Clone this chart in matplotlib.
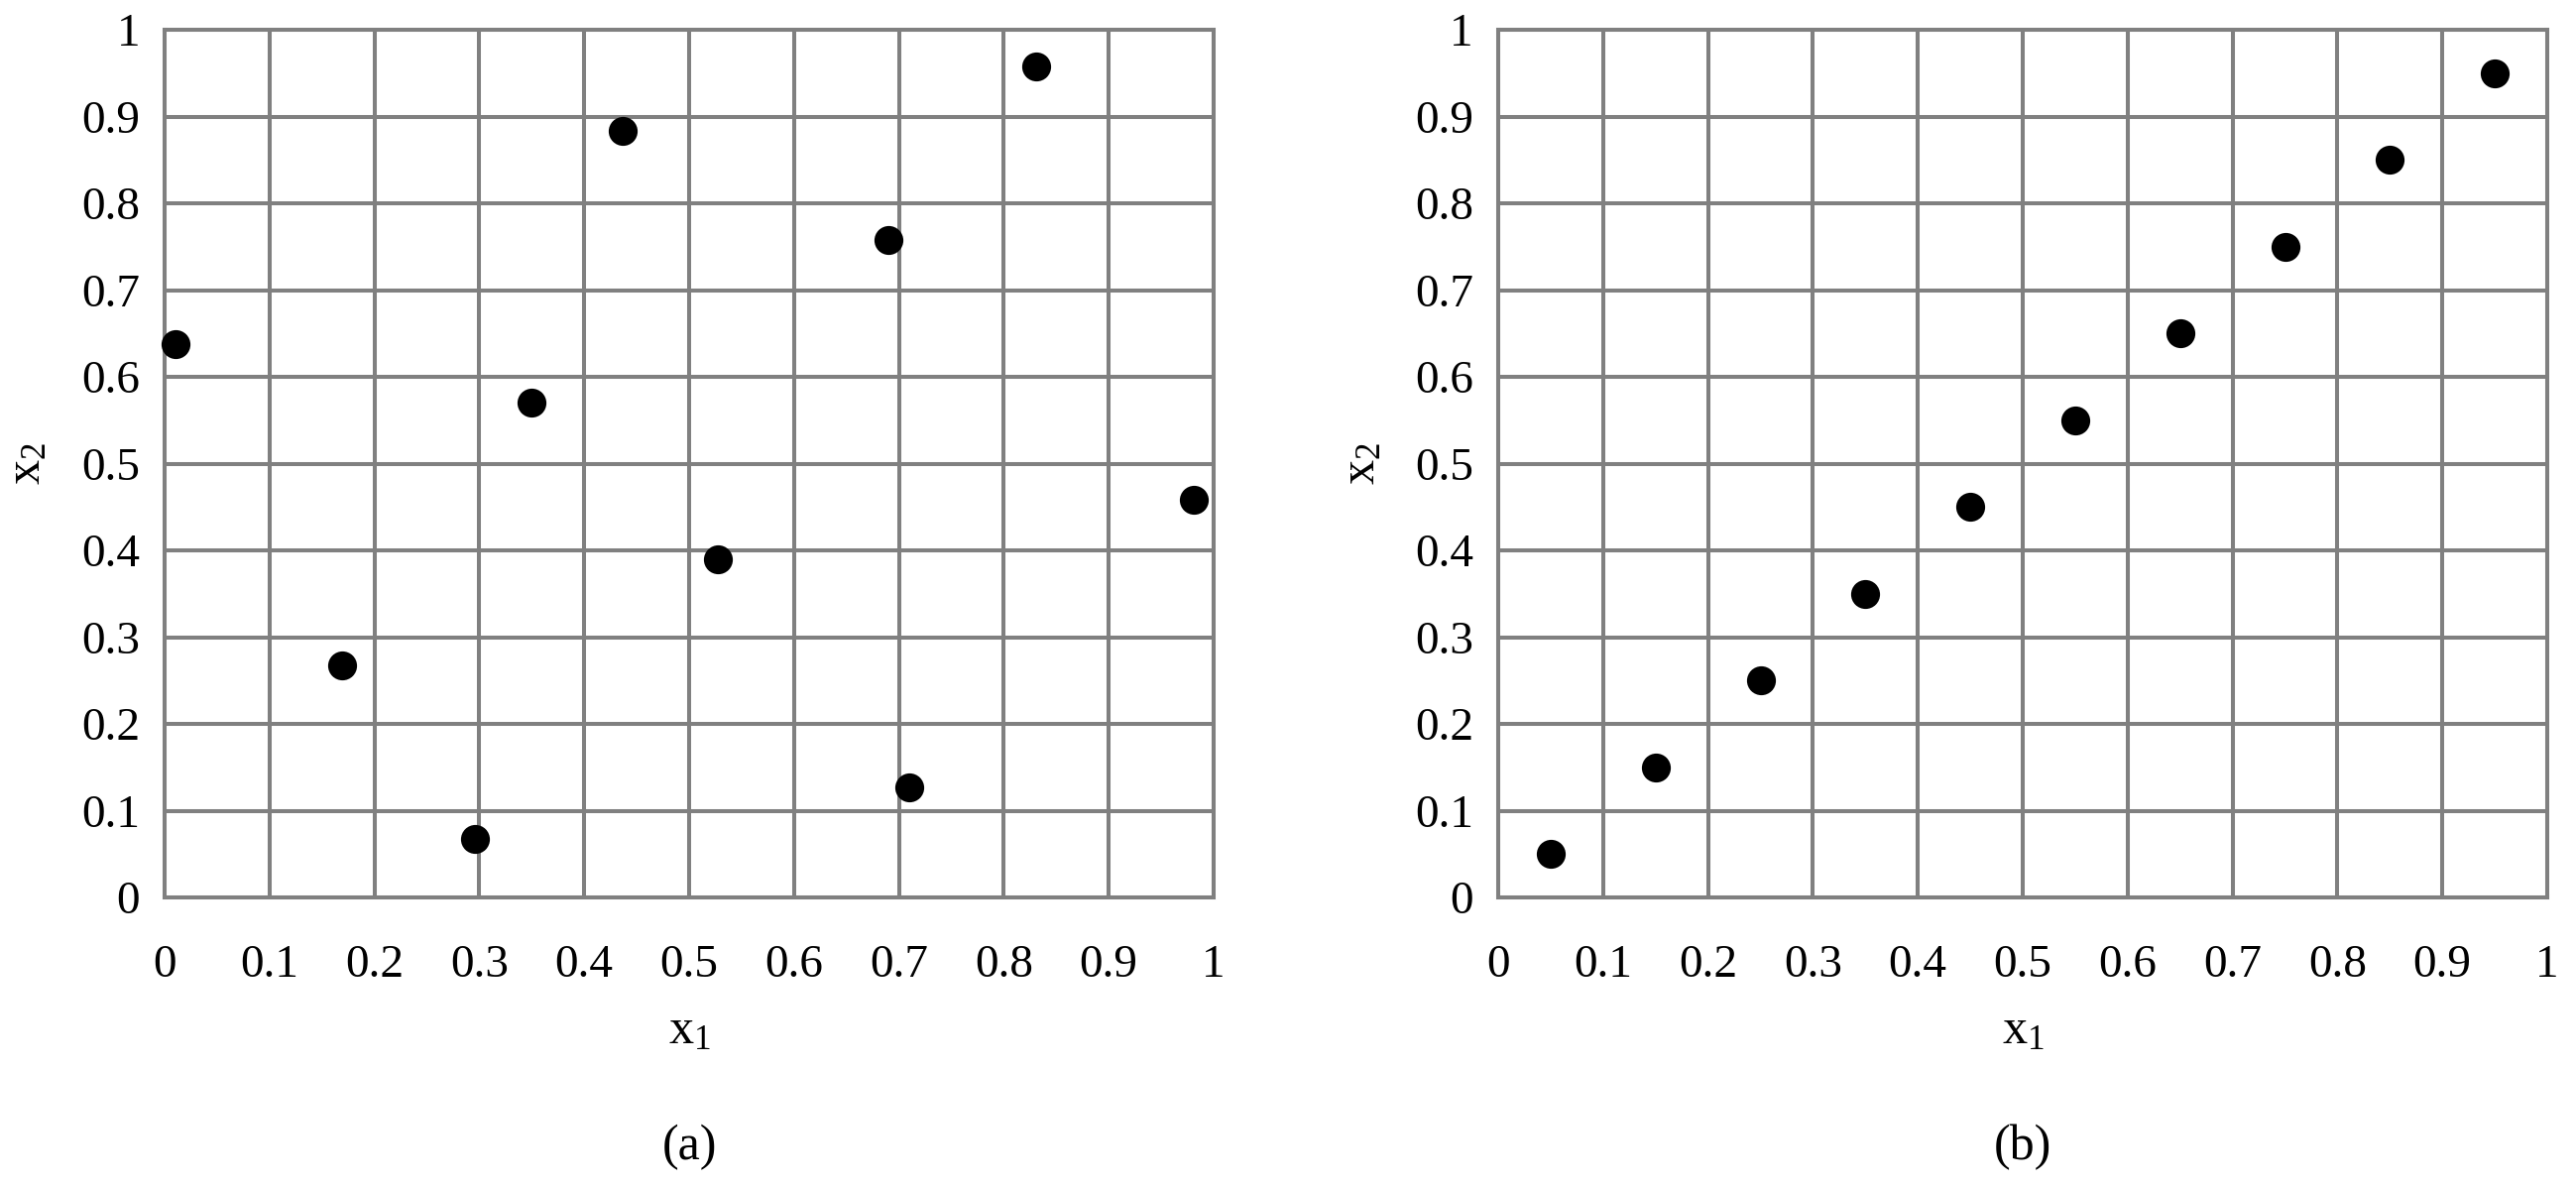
import matplotlib
matplotlib.use("Agg")
import matplotlib.pyplot as plt
from matplotlib.ticker import FuncFormatter

plt.rcParams['font.family'] = ['Liberation Serif', 'DejaVu Serif']
plt.rcParams['mathtext.fontset'] = 'custom'
plt.rcParams['mathtext.rm'] = 'Liberation Serif'
plt.rcParams['mathtext.it'] = 'Liberation Serif'

# Data
a_x1 = [0.010, 0.169, 0.296, 0.350, 0.437, 0.527, 0.690, 0.710, 0.831, 0.981]
a_x2 = [0.638, 0.267, 0.068, 0.570, 0.884, 0.390, 0.758, 0.127, 0.958, 0.458]
b_x1 = [0.05, 0.15, 0.25, 0.35, 0.45, 0.55, 0.65, 0.75, 0.85, 0.95]
b_x2 = [0.05, 0.15, 0.25, 0.35, 0.45, 0.55, 0.65, 0.75, 0.85, 0.95]
ticks = [0, 0.1, 0.2, 0.3, 0.4, 0.5, 0.6, 0.7, 0.8, 0.9, 1]
panel_labels = ['(a)', '(b)']

W, H = 2598, 1196
dpi = 200
fig = plt.figure(figsize=(W / dpi, H / dpi), dpi=dpi)

grid_color = '#808080'
lw = 1.45
fs = 17

def fmt(v, pos):
    s = f"{v:.1f}"
    if s.endswith('.0'):
        s = s[:-2]
    return s

lefts = [166 / W, 1511 / W]
width = 1058 / W
bottom = 1 - 905 / H
height = 875 / H

for i, (xs, ys) in enumerate([(a_x1, a_x2), (b_x1, b_x2)]):
    ax = fig.add_axes([lefts[i], bottom, width, height])
    ax.set_xlim(0, 1)
    ax.set_ylim(0, 1)
    ax.set_xticks(ticks)
    ax.set_yticks(ticks)
    ax.xaxis.set_major_formatter(FuncFormatter(fmt))
    ax.yaxis.set_major_formatter(FuncFormatter(fmt))
    ax.grid(True, color=grid_color, linewidth=lw)
    ax.set_axisbelow(True)
    for sp in ax.spines.values():
        sp.set_color(grid_color)
        sp.set_linewidth(lw)
    ax.tick_params(length=0, labelsize=fs, colors='black')
    ax.tick_params(axis='x', pad=17)
    ax.tick_params(axis='y', pad=9)
    ax.plot(xs, ys, 'o', color='black', markersize=9.5, linestyle='none',
            clip_on=False, zorder=5)
    cx = lefts[i] + width / 2
    fig.text(cx, 1 - 1040 / H, r'x$_1$', ha='center', va='center', fontsize=fs + 1)
    fig.text(cx, 1 - 1157 / H, panel_labels[i], ha='center', va='center', fontsize=fs + 1)
    ylx = (28 if i == 0 else 1374) / W
    fig.text(ylx, bottom + height / 2, r'x$_2$', ha='center', va='center',
             rotation=90, fontsize=fs + 1)

fig.savefig('out.png', dpi=dpi, facecolor='white')
